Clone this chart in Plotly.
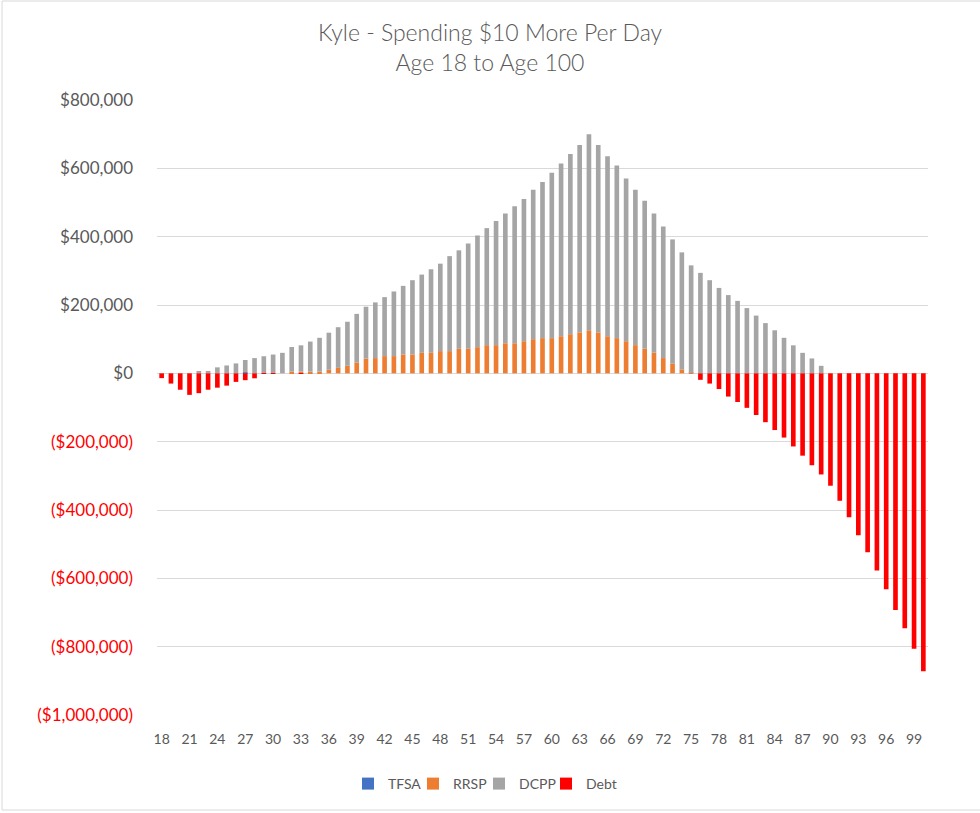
import plotly.graph_objects as go

ages = list(range(18, 101))

tfsa = [0, 0, 0, 0, 0, 0, 0, 0, 0, 3000,
        0, 0, 0, 0, 0, 0, 0, 0, 0, 0,
        0, 0, 0, 0, 0, 0, 0, 0, 0, 0,
        0, 0, 0, 0, 0, 0, 0, 0, 0, 0,
        0, 0, 0, 0, 0, 0, 0, 0, 0, 0,
        0, 0, 0, 0, 0, 0, 0, 0, 0, 0,
        0, 0, 0, 0, 0, 0, 0, 0, 0, 0,
        0, 0, 0, 0, 0, 0, 0, 0, 0, 0,
        0, 0, 0]

rrsp = [0, 0, 0, 0, 0, 0, 0, 0, 0, 0, 0, 0, 0, 0,
        5000, 5000, 5000, 5000, 10500, 16000, 22000, 32000, 43000, 44600,
        50400, 50400, 55300, 55300, 60000, 60000, 65000, 65000, 71800, 71800,
        76600, 82500, 82500, 88000, 88000, 94000, 100000, 103000, 103000, 108600,
        114500, 120000, 126000, 120000, 108600, 103000, 94000, 82500, 71800, 60000,
        44600, 28000, 11600, 1000, 0, 0, 0, 0, 0, 0,
        0, 0, 0, 0, 0, 0, 0, 0, 0, 0,
        0, 0, 0, 0, 0, 0, 0, 0, 0]

dcpp = [0, 0, 0, 0,
        7000, 7000, 17500, 23000, 29000, 36000, 44600, 50000, 55000, 60000,
        72000, 77000, 88000, 99000, 108500, 119000, 129000, 142000, 152000, 163000,
        172600, 189200, 200700, 217300, 229000, 244600, 256000, 278000, 288200, 308200,
        326900, 342500, 363500, 379500, 401000, 416000, 437000, 457000, 484000, 505400,
        527500, 548000, 574000, 548000, 526400, 505000, 476000, 454500, 433200, 407500,
        385400, 364000, 342400, 315000, 294000, 272600, 250000, 229000, 212000, 191000,
        169000, 147000, 126000, 104000, 82000, 60000, 43600, 22000, 0, 0,
        0, 0, 0, 0, 0, 0, 0, 0, 0]

debt = [-14000, -30000, -48000, -63000, -58000, -48000, -42000, -36000, -25000, -20000,
        -14500, -1500, -1500, 0, 0, -1500, 0, 0, 0, 0,
        0, 0, 0, 0, 0, 0, 0, 0, 0, 0,
        0, 0, 0, 0, 0, 0, 0, 0, 0, 0,
        0, 0, 0, 0, 0, 0, 0, 0, 0, 0,
        0, 0, 0, 0, 0, 0, 0, 0,
        -19000, -30000, -46000, -68000, -84000, -101000, -122000, -143000, -166000, -188000,
        -214000, -241000, -269000, -296000, -329000, -373000, -421000, -474000, -524000, -577000,
        -632000, -693000, -746000, -806000, -872000]

series = [("TFSA", tfsa, "#4472C4"), ("RRSP", rrsp, "#ED7D31"),
          ("DCPP", dcpp, "#A5A5A5"), ("Debt", debt, "#FF0000")]

y_ticks = [800000, 600000, 400000, 200000, 0, -200000, -400000, -600000, -800000, -1000000]
y_labels = ["$800,000", "$600,000", "$400,000", "$200,000", "$0",
            "($200,000)", "($400,000)", "($600,000)", "($800,000)", "($1,000,000)"]
x_ticks = list(range(18, 101, 3))

W, H = 980, 813
font_family = "Lato, 'Open Sans', sans-serif"
grey_text = "#595959"

# left edge (px) of each legend entry, one legend per series
legend_px = [348, 413, 479, 546]
legend_names = ["legend", "legend2", "legend3", "legend4"]

fig = go.Figure()
for (name, vals, col), lg in zip(series, legend_names):
    fig.add_trace(go.Bar(x=ages, y=vals, name=name, marker_color=col,
                         marker_line_width=0, legend=lg, showlegend=True))

ticktext = [lab if v >= 0 else '<span style="color:#FF0000">' + lab + '</span>'
            for v, lab in zip(y_ticks, y_labels)]

legend_layouts = {}
for lg, px in zip(legend_names, legend_px):
    legend_layouts[lg] = dict(orientation="h", xref="container", yref="container",
                              x=px / W, xanchor="left", y=1 - 784 / H, yanchor="middle",
                              font=dict(size=14, color=grey_text), itemwidth=30,
                              bgcolor="rgba(0,0,0,0)", borderwidth=0)

fig.update_layout(
    width=W, height=H,
    showlegend=True,
    barmode="relative", bargap=0.5,
    paper_bgcolor="white", plot_bgcolor="white",
    margin=dict(l=157, r=52, t=100, b=98),
    font=dict(family=font_family, color=grey_text, size=15),
    title=dict(text="Kyle - Spending $10 More Per Day<br>Age 18 to Age 100",
               x=0.5, xanchor="center", yref="container", y=1 - 41 / H, yanchor="top",
               font=dict(size=23, color=grey_text, family=font_family, weight=300)),
    xaxis=dict(range=[17.5, 100.5], tickvals=x_ticks, ticktext=[str(t) for t in x_ticks],
               showgrid=False, zeroline=False, showline=False, ticks="",
               tickfont=dict(size=14, color=grey_text), ticklabelstandoff=14),
    yaxis=dict(range=[-1000000, 800000], tickvals=y_ticks, ticktext=ticktext,
               showgrid=True, gridcolor="#D9D9D9", gridwidth=1,
               zeroline=True, zerolinecolor="#D9D9D9", zerolinewidth=1,
               showline=False, ticks="", ticklabelstandoff=23,
               tickfont=dict(size=17, color=grey_text)),
    shapes=[dict(type="rect", xref="paper", yref="paper",
                 x0=-0.201, x1=1.08, y0=-0.1545, y1=1.161,
                 line=dict(color="#D9D9D9", width=1), fillcolor="rgba(0,0,0,0)")],
    **legend_layouts,
)

fig.write_html("out.html", config={"displayModeBar": False},
               post_script="document.body.style.margin='0';")
